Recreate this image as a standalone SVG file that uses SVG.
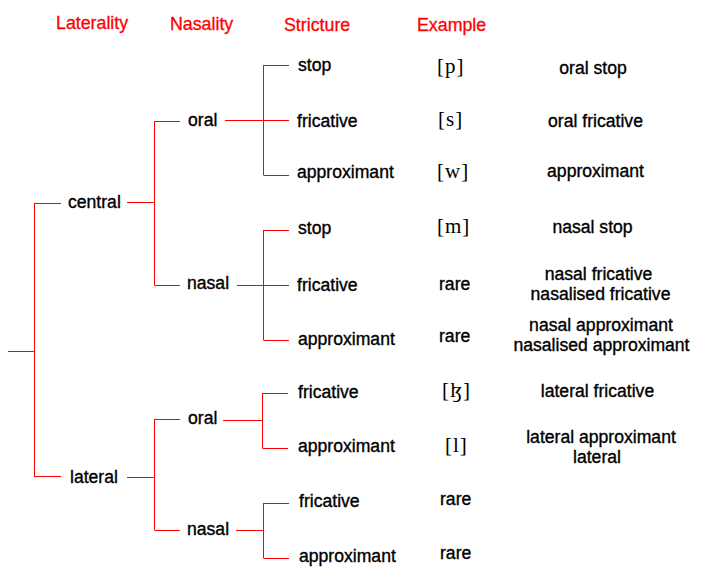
<svg xmlns="http://www.w3.org/2000/svg" width="715" height="580" viewBox="0 0 715 580">
<style>
.h{font-family:"Liberation Sans",Arial,sans-serif;font-size:17.8px;fill:#ff0000;stroke:#ff0000;stroke-width:0.3}
.t{font-family:"Liberation Sans",Arial,sans-serif;font-size:17.6px;fill:#000;stroke:#000;stroke-width:0.35}
.c{text-anchor:middle}
.ipa{font-family:"Liberation Serif","DejaVu Serif",serif;font-size:21px;fill:#000;letter-spacing:1px}
.ln{stroke:#ff0000;stroke-width:1;fill:none}
</style>
<rect width="715" height="580" fill="#fff"/>
<g id="headers">
<text class="h" x="56" y="29">Laterality</text>
<text class="h" x="170" y="30">Nasality</text>
<text class="h" x="284" y="31">Stricture</text>
<text class="h" x="417" y="31">Example</text>
</g>
<g id="connectors" class="ln">
<path d="M8,351.5H34.5M34.5,203V477M34.5,203.5H61M34.5,476.5H61"/>
<path d="M127,202.5H154.5M154.5,121V285M154.5,121.5H180M154.5,285.5H180"/>
<path d="M225,120.5H289M263.5,65V175M263.5,65.5H289M263.5,175.5H289"/>
<path d="M237,285.5H289M263.5,230V340M263.5,230.5H289M263.5,340.5H289"/>
<path d="M127,477.5H154.5M154.5,419V530M154.5,419.5H180M154.5,530.5H180"/>
<path d="M223,420.5H262.5M262.5,393V448M262.5,393.5H288M262.5,448.5H288"/>
<path d="M236,530.5H263.5M263.5,503V558M263.5,503.5H289M263.5,558.5H289"/>
</g>
<g id="central"><text class="t" x="68" y="208">central</text></g>
<g id="lateral"><text class="t" x="70" y="483">lateral</text></g>
<g id="central-oral"><text class="t" x="188" y="126">oral</text></g>
<g id="central-nasal"><text class="t" x="187" y="289">nasal</text></g>
<g id="lateral-oral"><text class="t" x="188" y="424">oral</text></g>
<g id="lateral-nasal"><text class="t" x="187" y="535">nasal</text></g>
<g id="co-stop"><text class="t" x="298" y="71">stop</text><text class="ipa" x="437" y="73">[p]</text><text class="t c" x="593" y="74">oral stop</text></g>
<g id="co-fricative"><text class="t" x="297" y="127">fricative</text><text class="ipa" x="438" y="126">[s]</text><text class="t c" x="595.5" y="127">oral fricative</text></g>
<g id="co-approximant"><text class="t" x="297" y="178">approximant</text><text class="ipa" x="437" y="178">[w]</text><text class="t c" x="595.5" y="177">approximant</text></g>
<g id="cn-stop"><text class="t" x="298" y="234">stop</text><text class="ipa" x="437" y="233">[m]</text><text class="t c" x="592.5" y="233">nasal stop</text></g>
<g id="cn-fricative"><text class="t" x="297" y="291">fricative</text><text class="t" x="439" y="290">rare</text><text class="t c" x="598.5" y="280">nasal fricative</text><text class="t c" x="600.5" y="300">nasalised fricative</text></g>
<g id="cn-approximant"><text class="t" x="298" y="345">approximant</text><text class="t" x="439" y="342">rare</text><text class="t c" x="601" y="331">nasal approximant</text><text class="t c" x="601.5" y="351">nasalised approximant</text></g>
<g id="lo-fricative"><text class="t" x="298" y="398">fricative</text><text class="ipa" x="442" y="397">[ɮ]</text><text class="t c" x="597.5" y="397">lateral fricative</text></g>
<g id="lo-approximant"><text class="t" x="298" y="452">approximant</text><text class="ipa" x="445" y="452">[l]</text><text class="t c" x="601" y="443">lateral approximant</text><text class="t c" x="597" y="463">lateral</text></g>
<g id="ln-fricative"><text class="t" x="299" y="507">fricative</text><text class="t" x="440" y="505">rare</text></g>
<g id="ln-approximant"><text class="t" x="299" y="562">approximant</text><text class="t" x="440" y="559">rare</text></g>
</svg>
